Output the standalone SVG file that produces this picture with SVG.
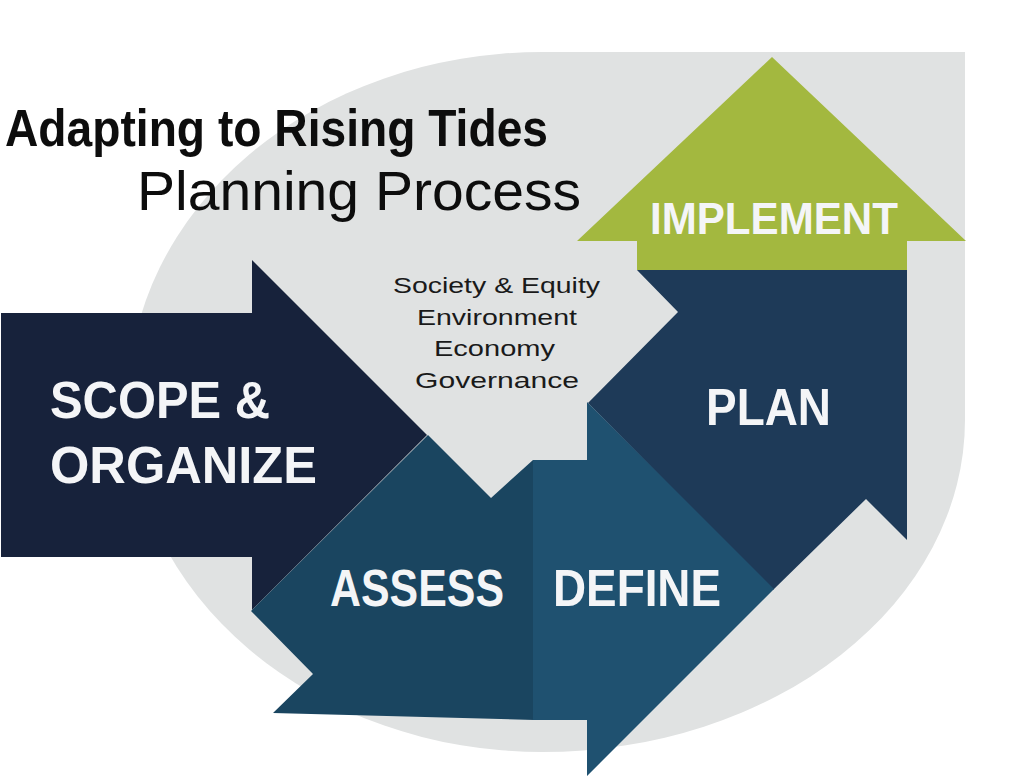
<svg xmlns="http://www.w3.org/2000/svg" width="1024" height="779" viewBox="0 0 1024 779">
  <style>
    .lbl { font-family: "Liberation Sans", Arial, sans-serif; font-weight: bold; fill: #f4f5f7; }
    .pillar { font-family: "Liberation Sans", Arial, sans-serif; font-size: 22px; fill: #1a1a1a; }
    .title1 { font-family: "Liberation Sans", Arial, sans-serif; font-weight: bold; font-size: 52px; fill: #0d0d0d; }
    .title2 { font-family: "Liberation Sans", Arial, sans-serif; font-size: 56px; fill: #0d0d0d; }
  </style>
  <rect width="1024" height="779" fill="#ffffff"/>
  <g id="background">
    <path d="M 542 52 H 965 V 420 A 423 332 0 0 1 542 752 A 414 350 0 0 1 542 52 Z" fill="#e0e2e2"/>
  </g>
  <g id="title">
    <text class="title1" x="5" y="146" textLength="543" lengthAdjust="spacingAndGlyphs">Adapting to Rising Tides</text>
    <text class="title2" x="137" y="210" textLength="444" lengthAdjust="spacingAndGlyphs">Planning Process</text>
  </g>
  <g id="scope">
    <polygon points="1,313 252,313 252,260 427,435 252,610 252,557 1,557" fill="#17223b"/>
    <text class="lbl" x="50" y="418" font-size="52" textLength="220" lengthAdjust="spacingAndGlyphs">SCOPE &amp;</text>
    <text class="lbl" x="50" y="483" font-size="52" textLength="267" lengthAdjust="spacingAndGlyphs">ORGANIZE</text>
  </g>
  <g id="assess">
    <polygon points="251,611 428,435 491,498 533,460 534,720 273,713 313,674" fill="#1a4560"/>
    <text class="lbl" x="330" y="606" font-size="52" textLength="174" lengthAdjust="spacingAndGlyphs">ASSESS</text>
  </g>
  <g id="plan">
    <polygon points="637,270 907,270 907,540 866,499 773,590 588,403 678,312" fill="#1e3a58"/>
    <text class="lbl" x="706" y="425" font-size="52" textLength="125" lengthAdjust="spacingAndGlyphs">PLAN</text>
  </g>
  <g id="define">
    <polygon points="533,460 587,460 587,402 774,589 587,776 587,720 533,720" fill="#1f5170"/>
    <text class="lbl" x="553" y="606" font-size="52" textLength="168" lengthAdjust="spacingAndGlyphs">DEFINE</text>
  </g>
  <g id="implement">
    <polygon points="772,57 966,241 907,241 907,270 637,270 637,241 577,241" fill="#a3b83f"/>
    <text class="lbl" x="650" y="234" font-size="44" textLength="248" lengthAdjust="spacingAndGlyphs">IMPLEMENT</text>
  </g>
  <g id="pillars">
    <text class="pillar" x="393" y="293" textLength="207" lengthAdjust="spacingAndGlyphs">Society &amp; Equity</text>
    <text class="pillar" x="417" y="325" textLength="160" lengthAdjust="spacingAndGlyphs">Environment</text>
    <text class="pillar" x="434" y="356" textLength="121" lengthAdjust="spacingAndGlyphs">Economy</text>
    <text class="pillar" x="415" y="388" textLength="164" lengthAdjust="spacingAndGlyphs">Governance</text>
  </g>
</svg>
